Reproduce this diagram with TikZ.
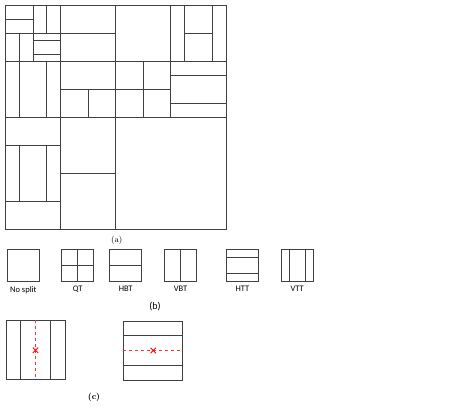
\documentclass[tikz,border=0pt]{standalone}
\usepackage{fontspec}
\newfontfamily\labelfont{Carlito}
\usetikzlibrary{positioning,shapes.misc}

\begin{document}
\begin{tikzpicture}[
    x=1pt, y=-1pt,
    cut/.style={draw=black!75, line width=0.8pt},
    splitbox/.style={cut, rectangle, inner sep=0, minimum size=32pt},
    bigbox/.style={cut, rectangle, inner sep=0, minimum size=59pt},
    probe/.style={draw=red!80, dashed, line width=1.2pt},
    marker/.style={draw=red, cross out, line width=0.9pt, inner sep=0, minimum size=4.5pt},
    modelabel/.style={font=\labelfont\fontsize{8.5}{10}\selectfont, inner sep=0, anchor=north},
    caption/.style={font=\fontsize{8.5}{10}\selectfont, inner sep=0}]

\useasboundingbox (0,0) rectangle (474,413);

% (a) partition of one block
\begin{scope}[shift={(5.5,5.7)}, x=13.78pt, y=-13.96pt]
\path[cut] (0,0) rectangle (16,16);
\path[cut] (8,0) -- (8,16) (0,8) -- (16,8);
% top left
\path[cut] (4,0) -- (4,16) (0,4) -- (8,4);
\path[cut] (2,0) -- (2,4) (0,2) -- (4,2);
\path[cut] (0,1) -- (2,1) (3,0) -- (3,2) (1,2) -- (1,4);
\path[cut] (2,2.5) -- (4,2.5) (2,3.5) -- (4,3.5);
\path[cut] (4,2) -- (8,2);
\path[cut] (1,4) -- (1,8) (3,4) -- (3,8);
\path[cut] (4,6) -- (12,6) (6,6) -- (6,8);
% top right
\path[cut] (12,0) -- (12,8) (8,4) -- (16,4);
\path[cut] (13,0) -- (13,4) (15,0) -- (15,4) (13,2) -- (15,2);
\path[cut] (10,4) -- (10,8);
\path[cut] (12,5) -- (16,5) (12,7) -- (16,7);
% bottom left
\path[cut] (0,10) -- (4,10) (0,14) -- (4,14);
\path[cut] (1,10) -- (1,14) (3,10) -- (3,14);
\path[cut] (4,12) -- (8,12);
\end{scope}
\node[caption] (capa) at (116.7,240) {(a)};

% (b) split types
\node[splitbox] (nosplit) at (23.3,265.5) {};
\node[splitbox] (qt)  at (77.7,265.5) {};
\node[splitbox] (hbt) at (125.7,265.5) {};
\node[splitbox] (vbt) at (180.5,265.5) {};
\node[splitbox] (htt) at (242.5,265.5) {};
\node[splitbox] (vtt) at (297.2,265.5) {};

\path[cut] (qt.north) -- (qt.south) (qt.west) -- (qt.east);
\path[cut] (hbt.west) -- (hbt.east);
\path[cut] (vbt.north) -- (vbt.south);
\path[cut] ([yshift=8pt]htt.west) -- ([yshift=8pt]htt.east)
           ([yshift=-8pt]htt.west) -- ([yshift=-8pt]htt.east);
\path[cut] ([xshift=-8pt]vtt.north) -- ([xshift=-8pt]vtt.south)
           ([xshift=8pt]vtt.north) -- ([xshift=8pt]vtt.south);

\node[modelabel, below=4pt of nosplit] (lnosplit) {No split};
\node[modelabel, below=4pt of qt]  (lqt)  {QT};
\node[modelabel, below=4pt of hbt] (lhbt) {HBT};
\node[modelabel, below=4pt of vbt] (lvbt) {VBT};
\node[modelabel, below=4pt of htt] (lhtt) {HTT};
\node[modelabel, below=4pt of vtt] (lvtt) {VTT};
\node[caption, font=\labelfont\fontsize{10}{12}\selectfont] (capb) at (155,307) {(b)};

% (c) ternary splits with centre line
\node[bigbox] (vttc) at (35.5,350.3) {};
\node[bigbox] (httc) at (153.3,350.5) {};

\path[cut] ([xshift=-14.75pt]vttc.north) -- ([xshift=-14.75pt]vttc.south)
           ([xshift=14.75pt]vttc.north) -- ([xshift=14.75pt]vttc.south);
\path[cut] ([yshift=14.75pt]httc.west) -- ([yshift=14.75pt]httc.east)
           ([yshift=-14.75pt]httc.west) -- ([yshift=-14.75pt]httc.east);
\path[probe] (vttc.north) -- (vttc.south);
\path[probe] (httc.west) -- (httc.east);
\node[marker] (vttmark) at (vttc.center) {};
\node[marker] (httmark) at (httc.center) {};
\node[caption, font=\bfseries\fontsize{8.5}{10}\selectfont] (capc) at (94,397) {(c)};

\end{tikzpicture}
\end{document}
